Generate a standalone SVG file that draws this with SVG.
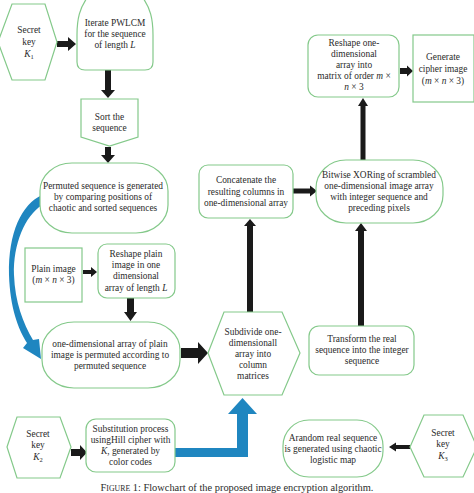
<svg xmlns="http://www.w3.org/2000/svg" width="474" height="493" viewBox="0 0 474 493">
<style>
.n{fill:#fff;stroke:#84c98a;stroke-width:1.2}
.t{font-family:"Liberation Serif","Times New Roman",serif;font-size:9.4px;fill:#2b2b2b;text-anchor:middle}
.i{font-style:italic}
.s{font-size:6.5px}
.a{fill:#1a1a1a}
.b{fill:#1f86c0}
</style>
<rect width="474" height="493" fill="#fff"/>
<g id="connectors">
<path class="a" d="M57,41H68V37L76,44L68,51V47H57Z"/>
<path class="a" d="M105,70H111V90H115L108,98L101,90H105Z"/>
<path class="a" d="M105,147H111V155H115L108,163L101,155H105Z"/>
<path class="a" d="M83,270H91V267L97,272L91,277V274H83Z"/>
<path class="a" d="M127,298H134V312H137L130.5,321L124,312H127Z"/>
<path class="a" d="M181,348H198V342L208,353L198,364V358H181Z"/>
<path class="a" d="M247,312V226H244L250,219L256,226H253V312Z"/>
<path class="a" d="M293,188.5H310V185.5L317,191L310,196.5V193.5H293Z"/>
<path class="a" d="M358,326V231H355L361,223L367,231H364V326Z"/>
<path class="a" d="M360.5,160V106H358L363,98L368,106H365.5V160Z"/>
<path class="a" d="M400,68H407V65.5L413,71L407,76.5V74H400Z"/>
<path class="a" d="M71,449H80V445L87,452.5L80,460V456H71Z"/>
<path class="a" d="M410,445H396V442.5L389,447L396,451.5V449H410Z"/>
<path class="b" d="M175,448H237V414H228L242.5,398L257,414H248V457H175Z"/>
<path class="b" d="M42,195C22,204 8,232 9,275C10,307 18,329 27,343L23,348L41,359L39,339L33,340C23,323 15,302 14,275C13,244 25,216 42,205Z"/>
</g>
<g id="k1">
<path class="n" d="M-2,42L12,4H45L57,42L45,80H12Z"/>
<text class="t" x="29" y="33">Secret</text>
<text class="t" x="29" y="45">key</text>
<text class="t" x="29" y="57"><tspan class="i">K</tspan><tspan class="s" dy="2">1</tspan></text>
</g>
<g id="iterate">
<path class="n" d="M85,70Q77,70 77,62V35C77,18 80,8 87,-2H143C150,8 153,18 153,35V62Q153,70 145,70Z"/>
<text class="t" x="115" y="26">Iterate PWLCM</text>
<text class="t" x="115" y="37">for the sequence</text>
<text class="t" x="115" y="48">of length <tspan class="i">L</tspan></text>
</g>
<g id="sort">
<path class="n" d="M81,99H138V137L109.5,146L81,137Z"/>
<text class="t" x="109.5" y="120">Sort the</text>
<text class="t" x="109.5" y="131">sequence</text>
</g>
<g id="permuted">
<rect class="n" x="40" y="163" width="128" height="70" rx="32" ry="28"/>
<text class="t" x="103" y="189">Permuted sequence is generated</text>
<text class="t" x="103" y="200">by comparing positions of</text>
<text class="t" x="103" y="211">chaotic and sorted sequences</text>
</g>
<g id="plain">
<rect class="n" x="25" y="248" width="57" height="54"/>
<text class="t" x="53.5" y="272">Plain image</text>
<text class="t" x="53.5" y="283">(<tspan class="i">m</tspan> × <tspan class="i">n</tspan> × 3)</text>
</g>
<g id="reshape-plain">
<rect class="n" x="98" y="244" width="77" height="54" rx="9"/>
<text class="t" x="136" y="257">Reshape plain</text>
<text class="t" x="136" y="268">image in one</text>
<text class="t" x="136" y="279">dimensional</text>
<text class="t" x="136" y="291">array of length <tspan class="i">L</tspan></text>
</g>
<g id="onedim">
<rect class="n" x="42" y="322" width="138" height="66" rx="32" ry="28"/>
<text class="t" x="110" y="347">one-dimensional array of plain</text>
<text class="t" x="110" y="358">image is permuted according to</text>
<text class="t" x="110" y="369">permuted sequence</text>
</g>
<g id="subdivide">
<path class="n" d="M208,353L224,312H282L300,353L282,395H224Z"/>
<text class="t" x="253" y="335">Subdivide one-</text>
<text class="t" x="253" y="346">dimensionall</text>
<text class="t" x="253" y="357">array into</text>
<text class="t" x="253" y="368">column</text>
<text class="t" x="253" y="379">matrices</text>
</g>
<g id="concat">
<rect class="n" x="199" y="165" width="94" height="53" rx="9"/>
<text class="t" x="246" y="183">Concatenate the</text>
<text class="t" x="246" y="195">resulting columns in</text>
<text class="t" x="246" y="206">one-dimensional array</text>
</g>
<g id="bitwise">
<rect class="n" x="316" y="160" width="127" height="63" rx="30" ry="28"/>
<text class="t" x="379" y="178">Bitwise XORing of scrambled</text>
<text class="t" x="379" y="189">one-dimensional image array</text>
<text class="t" x="379" y="200">with integer sequence and</text>
<text class="t" x="379" y="211">preceding pixels</text>
</g>
<g id="reshape-one">
<rect class="n" x="308" y="35" width="91" height="62" rx="10"/>
<text class="t" x="354" y="46">Reshape one-</text>
<text class="t" x="354" y="57">dimensional</text>
<text class="t" x="354" y="68">array into</text>
<text class="t" x="354" y="79">matrix of order <tspan class="i">m</tspan> ×</text>
<text class="t" x="354" y="90"><tspan class="i">n</tspan> × 3</text>
</g>
<g id="generate">
<rect class="n" x="413" y="35" width="61" height="67"/>
<text class="t" x="443" y="60">Generate</text>
<text class="t" x="443" y="72">cipher image</text>
<text class="t" x="443" y="84">(<tspan class="i">m</tspan> × <tspan class="i">n</tspan> × 3)</text>
</g>
<g id="transform">
<rect class="n" x="309" y="326" width="105" height="49" rx="10"/>
<text class="t" x="362" y="342">Transform the real</text>
<text class="t" x="362" y="353">sequence into the integer</text>
<text class="t" x="362" y="364">sequence</text>
</g>
<g id="k2">
<path class="n" d="M7,447L17,417H60L71,447L60,478H17Z"/>
<text class="t" x="38" y="437">Secret</text>
<text class="t" x="38" y="448">key</text>
<text class="t" x="38" y="460"><tspan class="i">K</tspan><tspan class="s" dy="2">2</tspan></text>
</g>
<g id="substitution">
<rect class="n" x="86" y="419" width="89" height="53" rx="10"/>
<text class="t" x="130.5" y="432">Substitution process</text>
<text class="t" x="130.5" y="443">usingHill cipher with</text>
<text class="t" x="130.5" y="454"><tspan class="i">K</tspan>, generated by</text>
<text class="t" x="130.5" y="465">color codes</text>
</g>
<g id="arandom">
<rect class="n" x="283" y="420" width="100" height="57" rx="26" ry="26"/>
<text class="t" x="333" y="441">Arandom real sequence</text>
<text class="t" x="333" y="452">is generated using chaotic</text>
<text class="t" x="333" y="463">logistic map</text>
</g>
<g id="k3">
<path class="n" d="M410,447L424,415H463L477,447L463,477H424Z"/>
<text class="t" x="443" y="436">Secret</text>
<text class="t" x="443" y="447">key</text>
<text class="t" x="443" y="459"><tspan class="i">K</tspan><tspan class="s" dy="2">3</tspan></text>
</g>
<text class="t" x="237" y="491" style="font-size:10.4px">F<tspan style="font-size:7.8px">IGURE</tspan> 1: Flowchart of the proposed image encryption algorithm.</text>
</svg>
